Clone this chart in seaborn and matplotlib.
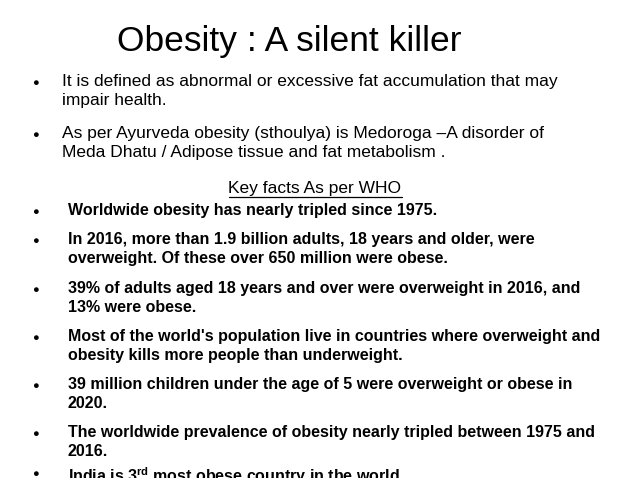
import matplotlib
matplotlib.use("Agg")
import matplotlib.pyplot as plt
import seaborn as sns

sns.set_theme(style="white")
plt.rcParams['font.family'] = ['Liberation Sans', 'DejaVu Sans']
plt.rcParams['mathtext.fontset'] = 'custom'
plt.rcParams['mathtext.rm'] = 'Liberation Sans:bold'
plt.rcParams['mathtext.bf'] = 'Liberation Sans:bold'

# slide content
title = "Obesity : A silent killer"
intro_points = [
    "It is defined as abnormal or excessive fat accumulation that may\nimpair health.",
    "As per Ayurveda obesity (sthoulya) is Medoroga \u2013A disorder of\nMeda Dhatu / Adipose tissue and fat metabolism .",
]
subheading = "Key facts As per WHO"
who_facts = [
    "Worldwide obesity has nearly tripled since 1975.",
    "In 2016, more than 1.9 billion adults, 18 years and older, were\noverweight. Of these over 650 million were obese.",
    "39% of adults aged 18 years and over were overweight in 2016, and\n13% were obese.",
    "Most of the world's population live in countries where overweight and\nobesity kills more people than underweight.",
    "39 million children under the age of 5 were overweight or obese in\n2020.",
    "The worldwide prevalence of obesity nearly tripled between 1975 and\n2016.",
    r"India is 3$^{\rm rd}$ most obese country in the world",
]
intro_tops = [74, 126]
fact_tops = [203, 232, 281, 329, 377, 425, 465]

W, H = 638, 478
fig = plt.figure(figsize=(W / 100, H / 100), dpi=100)
fig.patch.set_facecolor("white")


def fy(py):
    return 1 - py / H


fig.text(117 / W, fy(42), title, fontsize=25.5, va="center", ha="left", color="black")

for txt, top in zip(intro_points, intro_tops):
    fig.text(32 / W, fy(top + 9), "\u25cf", fontsize=8, va="center", color="black")
    fig.text(62 / W, fy(top), txt, fontsize=12.5, va="top", ha="left",
             linespacing=1.3, color="black")

fig.text(315 / W, fy(188), subheading, fontsize=12.5, va="center", ha="center", color="black")
fig.lines.append(plt.Line2D([229 / W, 402 / W], [fy(197), fy(197)],
                            transform=fig.transFigure, color="black", lw=0.9))

for txt, top in zip(who_facts, fact_tops):
    fig.text(32 / W, fy(top + 9), "\u25cf", fontsize=8, va="center", color="black")
    fig.text(68 / W, fy(top), txt, fontsize=11.5, va="top", ha="left",
             fontweight="bold", linespacing=1.35, color="black")

plt.savefig("out.png", dpi=100, facecolor="white")
